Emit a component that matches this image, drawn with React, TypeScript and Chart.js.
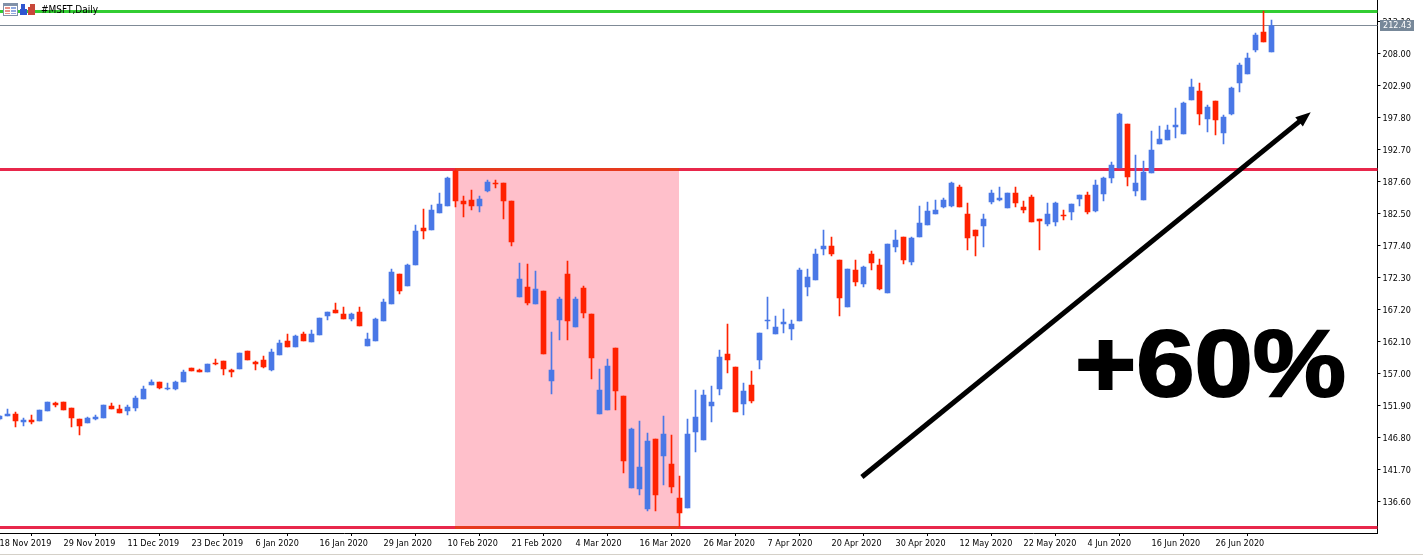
import { useEffect, useRef } from 'react';
import { Chart, registerables } from 'chart.js';

Chart.register(...registerables);

const dateLabels = [
  '18 Nov 2019', '29 Nov 2019', '11 Dec 2019', '23 Dec 2019', '6 Jan 2020',
  '16 Jan 2020', '29 Jan 2020', '10 Feb 2020', '21 Feb 2020', '4 Mar 2020',
  '16 Mar 2020', '26 Mar 2020', '7 Apr 2020', '20 Apr 2020', '30 Apr 2020',
  '12 May 2020', '22 May 2020', '4 Jun 2020', '16 Jun 2020', '26 Jun 2020',
];

const priceTicks = [
  136.6, 141.7, 146.8, 151.9, 157.0, 162.1, 167.2, 172.3,
  177.4, 182.5, 187.6, 192.7, 197.8, 202.9, 208.0, 213.1,
];

const opens = [
  149.73, 150.21, 150.53, 149.25, 149.57, 149.41, 151.0, 152.28, 152.44, 151.48,
  149.73, 149.09, 149.73, 149.89, 151.8, 151.32, 151.0, 151.48, 152.92, 155.15,
  155.63, 154.51, 154.51, 155.63, 157.86, 157.54, 157.22, 158.65, 158.97, 157.54,
  157.7, 160.56, 158.81, 159.13, 157.53, 159.92, 162.16, 161.2, 163.27, 162.0,
  163.11, 166.14, 167.1, 166.46, 165.66, 166.78, 161.36, 162.16, 165.34, 168.05,
  172.83, 170.92, 174.27, 180.16, 179.84, 182.55, 183.67, 189.25, 184.47, 184.63,
  183.67, 186.06, 187.33, 187.33, 184.47, 169.17, 170.76, 168.05, 170.12, 155.78,
  165.5, 172.83, 164.39, 170.6, 166.46, 150.52, 151.16, 161.04, 153.39, 138.73,
  138.57, 135.38, 146.54, 143.83, 142.56, 137.14, 135.54, 147.66, 146.38, 151.8,
  154.51, 160.09, 158.01, 152.12, 155.15, 159.13, 165.34, 163.27, 164.87, 164.07,
  165.34, 170.76, 171.88, 176.82, 177.3, 175.07, 167.58, 173.47, 171.24, 176.02,
  174.27, 169.81, 177.14, 178.73, 174.75, 178.73, 180.64, 182.4, 183.51, 183.67,
  186.7, 182.4, 179.85, 180.49, 184.31, 184.63, 183.35, 185.74, 183.51, 185.11,
  181.6, 180.8, 181.12, 182.24, 182.72, 184.79, 185.43, 182.88, 185.58, 188.13,
  189.73, 196.74, 186.06, 184.63, 188.93, 193.55, 194.19, 196.26, 195.15, 200.56,
  202.0, 197.54, 200.4, 195.3, 198.33, 203.27, 204.71, 208.53, 211.4, 208.21,
];

const highs = [
  150.3, 151.32, 150.84, 149.89, 150.37, 151.16, 152.44, 152.44, 152.44, 151.48,
  149.73, 150.05, 150.37, 151.96, 152.28, 151.96, 151.96, 153.39, 154.99, 155.95,
  155.63, 155.47, 155.79, 157.54, 157.86, 157.7, 158.49, 159.29, 158.97, 157.7,
  160.25, 160.56, 158.97, 159.76, 160.88, 162.32, 163.27, 163.11, 163.59, 163.91,
  165.82, 166.78, 168.21, 167.57, 166.62, 167.57, 163.43, 165.82, 168.85, 173.63,
  172.83, 174.43, 180.64, 183.19, 183.83, 185.74, 188.29, 189.41, 185.26, 186.22,
  185.26, 187.81, 187.81, 187.33, 184.47, 174.59, 174.43, 173.31, 170.12, 163.59,
  169.17, 174.9, 169.17, 170.92, 166.46, 157.69, 159.29, 161.04, 153.39, 148.29,
  149.41, 147.5, 146.54, 150.2, 147.18, 140.64, 149.73, 154.35, 154.35, 154.99,
  160.72, 164.87, 158.01, 155.46, 157.38, 163.43, 169.17, 166.14, 167.26, 165.5,
  173.79, 173.63, 176.82, 179.85, 178.73, 175.07, 173.63, 175.07, 174.11, 176.5,
  175.23, 177.62, 179.85, 178.73, 178.73, 183.67, 184.31, 184.63, 184.95, 187.5,
  187.02, 184.15, 179.85, 182.4, 186.22, 186.7, 185.74, 186.7, 184.47, 185.43,
  181.6, 184.15, 184.31, 183.04, 183.99, 185.43, 185.9, 187.82, 188.29, 190.68,
  198.49, 196.74, 191.8, 190.84, 195.62, 196.42, 196.58, 199.29, 200.24, 203.91,
  203.27, 199.77, 200.4, 198.17, 202.64, 206.46, 208.05, 211.24, 214.75, 213.31,
];

const lows = [
  149.6, 150.21, 148.45, 148.61, 148.93, 149.41, 151.0, 151.64, 151.16, 148.45,
  147.18, 149.09, 149.57, 149.89, 151.32, 150.68, 150.37, 151.0, 152.92, 155.15,
  154.51, 154.35, 154.35, 155.63, 157.38, 157.22, 157.22, 158.33, 156.74, 156.42,
  157.7, 159.13, 157.53, 157.85, 157.4, 159.92, 161.2, 161.2, 162.16, 162.0,
  163.11, 165.5, 166.62, 165.66, 165.34, 164.55, 161.36, 162.16, 165.34, 168.05,
  169.65, 170.92, 174.27, 178.41, 179.84, 182.55, 183.67, 183.51, 181.92, 183.03,
  182.71, 185.9, 186.54, 181.6, 177.29, 169.17, 167.89, 168.05, 160.08, 153.71,
  162.32, 162.32, 164.39, 165.82, 156.1, 150.52, 151.16, 151.16, 141.12, 138.73,
  137.62, 135.07, 135.07, 139.21, 137.93, 132.57, 135.54, 144.47, 146.38, 149.25,
  153.55, 157.06, 150.84, 150.36, 152.28, 157.69, 164.07, 163.27, 163.43, 162.32,
  165.34, 169.33, 171.88, 175.86, 175.7, 166.14, 167.58, 170.92, 170.76, 173.47,
  170.28, 169.81, 176.34, 174.43, 174.27, 178.73, 180.64, 182.4, 183.35, 183.51,
  183.51, 176.66, 175.71, 177.14, 183.99, 184.47, 183.35, 183.51, 182.56, 181.12,
  176.66, 180.49, 180.49, 181.44, 181.44, 183.67, 182.4, 182.72, 184.47, 187.34,
  189.73, 186.86, 185.27, 184.63, 188.93, 193.55, 194.19, 194.51, 195.15, 200.56,
  196.58, 195.46, 194.99, 193.55, 198.17, 201.84, 204.71, 208.21, 209.81, 208.21,
];

const closes = [
  150.21, 150.53, 149.41, 149.57, 149.25, 151.16, 152.44, 151.96, 151.16, 149.89,
  148.61, 149.89, 150.05, 151.96, 151.32, 150.68, 151.64, 153.08, 154.51, 155.63,
  154.67, 154.67, 155.63, 157.22, 157.38, 157.22, 158.49, 158.49, 157.7, 157.22,
  160.25, 159.13, 158.49, 158.01, 160.4, 161.84, 161.2, 162.95, 162.16, 163.27,
  165.82, 166.78, 166.62, 165.66, 166.46, 164.55, 162.47, 165.66, 168.37, 173.15,
  170.12, 174.27, 179.69, 179.69, 183.03, 183.99, 188.13, 184.47, 183.99, 183.67,
  184.78, 187.49, 187.18, 184.47, 177.93, 172.04, 168.21, 170.44, 160.08, 157.53,
  168.85, 165.34, 168.85, 166.62, 159.45, 154.35, 158.17, 154.19, 143.03, 148.13,
  142.08, 146.22, 137.62, 147.34, 138.89, 134.75, 147.34, 150.05, 153.55, 152.44,
  159.61, 159.13, 150.84, 154.19, 152.6, 163.43, 165.5, 164.39, 165.18, 164.87,
  173.47, 172.36, 176.02, 177.3, 176.02, 169.01, 173.63, 171.56, 173.95, 174.59,
  170.44, 177.62, 178.25, 175.07, 178.57, 180.96, 182.88, 183.04, 184.63, 187.34,
  183.51, 178.57, 178.89, 181.6, 185.74, 184.95, 185.74, 184.15, 183.04, 181.12,
  181.28, 182.4, 184.15, 182.08, 183.99, 185.43, 182.72, 187.02, 188.13, 190.21,
  198.33, 188.29, 187.34, 189.09, 192.6, 194.35, 195.78, 196.58, 200.09, 202.64,
  198.33, 199.45, 197.38, 197.85, 202.48, 206.14, 207.26, 210.92, 209.81, 212.43,
];

const resistanceLevel = 189.49;
const supportLevel = 132.44;
const highLevel = 214.67;
const bidLevel = 212.43;
const dropStart = 56.94;
const dropEnd = 84.94;
const arrowFrom = [107.8, 140.48];
const arrowTo = [163.9, 198.6];

const BLUE = '#4a78e6';
const RED = '#ff2200';
const FAMILY = '"DejaVu Sans Condensed", "Liberation Sans", sans-serif';
const axisFont = { family: FAMILY, size: 9 };
const fontStr = `9px ${FAMILY}`;

const candleColor = (c: any) => (closes[c.dataIndex] < opens[c.dataIndex] ? RED : BLUE);

const backdrop = {
  id: 'backdrop',
  beforeDatasetsDraw(chart: any) {
    const { ctx, chartArea, scales } = chart;
    const x = scales.x;
    const y = scales.y;
    const left = x.getPixelForValue(dropStart);
    const right = x.getPixelForValue(dropEnd);
    const top = y.getPixelForValue(resistanceLevel);
    const bottom = y.getPixelForValue(supportLevel);
    ctx.save();
    ctx.fillStyle = '#ffc0cb';
    ctx.fillRect(left, top, right - left, bottom - top);

    // horizontal levels, they turn orange where they cross the pink box
    [resistanceLevel, supportLevel].forEach((lvl) => {
      const py = Math.round(y.getPixelForValue(lvl) - 1.5);
      ctx.fillStyle = '#e8274b';
      ctx.fillRect(0, py, chartArea.right, 3);
      ctx.fillStyle = '#e63a1e';
      ctx.fillRect(left, py, right - left, 3);
    });
    ctx.fillStyle = '#32cd32';
    ctx.fillRect(0, Math.round(y.getPixelForValue(highLevel) - 1.5), chartArea.right, 3);
    ctx.fillStyle = '#7f8a96';
    ctx.fillRect(0, Math.floor(y.getPixelForValue(bidLevel)), chartArea.right, 1);
    ctx.restore();
  },
};

const overlay = {
  id: 'overlay',
  afterDraw(chart: any) {
    const { ctx, scales } = chart;
    const x = scales.x;
    const y = scales.y;
    ctx.save();

    // arrow
    const x0 = x.getPixelForValue(arrowFrom[0]);
    const y0 = y.getPixelForValue(arrowFrom[1]);
    const x1 = x.getPixelForValue(arrowTo[0]);
    const y1 = y.getPixelForValue(arrowTo[1]);
    const a = Math.atan2(y1 - y0, x1 - x0);
    ctx.strokeStyle = '#000';
    ctx.lineWidth = 5;
    ctx.beginPath();
    ctx.moveTo(x0, y0);
    ctx.lineTo(x1 - 10 * Math.cos(a), y1 - 10 * Math.sin(a));
    ctx.stroke();
    ctx.fillStyle = '#000';
    ctx.beginPath();
    ctx.moveTo(x1, y1);
    ctx.lineTo(x1 - 15 * Math.cos(a) - 6 * Math.sin(a), y1 - 15 * Math.sin(a) + 6 * Math.cos(a));
    ctx.lineTo(x1 - 15 * Math.cos(a) + 6 * Math.sin(a), y1 - 15 * Math.sin(a) - 6 * Math.cos(a));
    ctx.closePath();
    ctx.fill();

    // big label
    ctx.save();
    ctx.font = 'bold 95px "Liberation Sans", sans-serif';
    ctx.textAlign = 'left';
    ctx.textBaseline = 'alphabetic';
    const w = ctx.measureText('+60%').width;
    ctx.translate(1075, 396);
    ctx.scale(271 / w, 1);
    ctx.lineWidth = 2;
    ctx.strokeText('+60%', 0, 0);
    ctx.fillText('+60%', 0, 0);
    ctx.restore();

    // current price box
    ctx.fillStyle = '#778899';
    ctx.fillRect(1380, 20, 34, 11);
    ctx.fillStyle = '#fff';
    ctx.font = fontStr;
    ctx.textBaseline = 'middle';
    ctx.fillText(bidLevel.toFixed(2), 1383, 26);

    // window title and its two small icons
    ctx.fillStyle = '#000';
    ctx.font = `10px ${FAMILY}`;
    ctx.fillText('#MSFT,Daily', 41, 10);
    ctx.fillStyle = '#8090a8';
    ctx.fillRect(3, 3, 15, 13);
    ctx.fillStyle = '#fff';
    ctx.fillRect(4, 6, 13, 9);
    ctx.fillStyle = '#e89088';
    ctx.fillRect(5, 7, 5, 2);
    ctx.fillRect(5, 10, 5, 2);
    ctx.fillRect(5, 13, 5, 1);
    ctx.fillStyle = '#90a8e0';
    ctx.fillRect(11, 7, 5, 2);
    ctx.fillRect(11, 10, 5, 2);
    ctx.fillRect(11, 13, 5, 1);
    ctx.fillStyle = '#2f55d0';
    ctx.fillRect(20, 9, 7, 6);
    ctx.fillRect(21, 4, 4, 6);
    ctx.fillStyle = '#c8473a';
    ctx.fillRect(28, 7, 7, 8);
    ctx.fillRect(30, 4, 5, 4);

    // status bar edge at the very bottom
    ctx.fillStyle = '#d4d0c8';
    ctx.fillRect(0, 554, 1423, 1);
    ctx.restore();
  },
};

export default function App() {
  const chartRef = useRef<HTMLCanvasElement>(null);
  const chartInstance = useRef<Chart | null>(null);

  useEffect(() => {
    if (!chartRef.current) return;
    const ctx = chartRef.current.getContext('2d');
    if (!ctx) return;

    const wicks = highs.map((h, i) => ({ x: i, y: [lows[i], h] }));
    const bodies = opens.map((o, i) => ({ x: i, y: [Math.min(o, closes[i]), Math.max(o, closes[i])] }));

    chartInstance.current = new Chart(ctx, {
      type: 'bar',
      data: {
        datasets: [
          { data: wicks as any, barThickness: 1, grouped: false, backgroundColor: candleColor as any },
          { data: bodies as any, barThickness: 5, grouped: false, backgroundColor: candleColor as any },
        ],
      },
      options: {
        responsive: false,
        animation: false,
        devicePixelRatio: 1,
        layout: { padding: 0 },
        plugins: { legend: { display: false }, tooltip: { enabled: false } },
        scales: {
          x: {
            type: 'linear',
            offset: false,
            min: 0.0625,
            max: 172.25,
            afterBuildTicks: (s: any) => {
              s.ticks = dateLabels.map((_, i) => ({ value: i * 8 }));
            },
            afterFit: (s: any) => {
              s.height = 22;
              s.paddingLeft = 0;
              s.paddingRight = 0;
              s.paddingTop = 0;
              s.paddingBottom = 0;
            },
            grid: { drawOnChartArea: false, drawTicks: true, tickLength: 3, tickColor: '#000' },
            border: { color: '#000', width: 1 },
            ticks: {
              autoSkip: false,
              maxRotation: 0,
              align: 'start',
              padding: 2,
              color: '#000',
              font: axisFont,
              callback: (v: any) => dateLabels[v / 8],
            },
          },
          y: {
            type: 'linear',
            position: 'right',
            min: 131.56,
            max: 216.5,
            afterBuildTicks: (s: any) => {
              s.ticks = priceTicks.map((v) => ({ value: v }));
            },
            afterFit: (s: any) => {
              s.width = 45.5;
              s.paddingLeft = 0;
              s.paddingRight = 0;
              s.paddingTop = 0;
              s.paddingBottom = 0;
            },
            grid: { drawOnChartArea: false, drawTicks: true, tickLength: 3, tickColor: '#000' },
            border: { color: '#000', width: 1 },
            ticks: {
              padding: 2,
              labelOffset: 1,
              color: '#000',
              font: axisFont,
              callback: (v: any) => Number(v).toFixed(2),
            },
          },
        },
      },
      plugins: [backdrop, overlay],
    });

    return () => {
      if (chartInstance.current) {
        chartInstance.current.destroy();
      }
    };
  }, []);

  return (
    <div style={{ position: 'fixed', left: 0, top: 0, width: 1423, height: 555, background: '#fff' }}>
      <canvas ref={chartRef} width={1423} height={555} style={{ display: 'block' }} />
    </div>
  );
}
